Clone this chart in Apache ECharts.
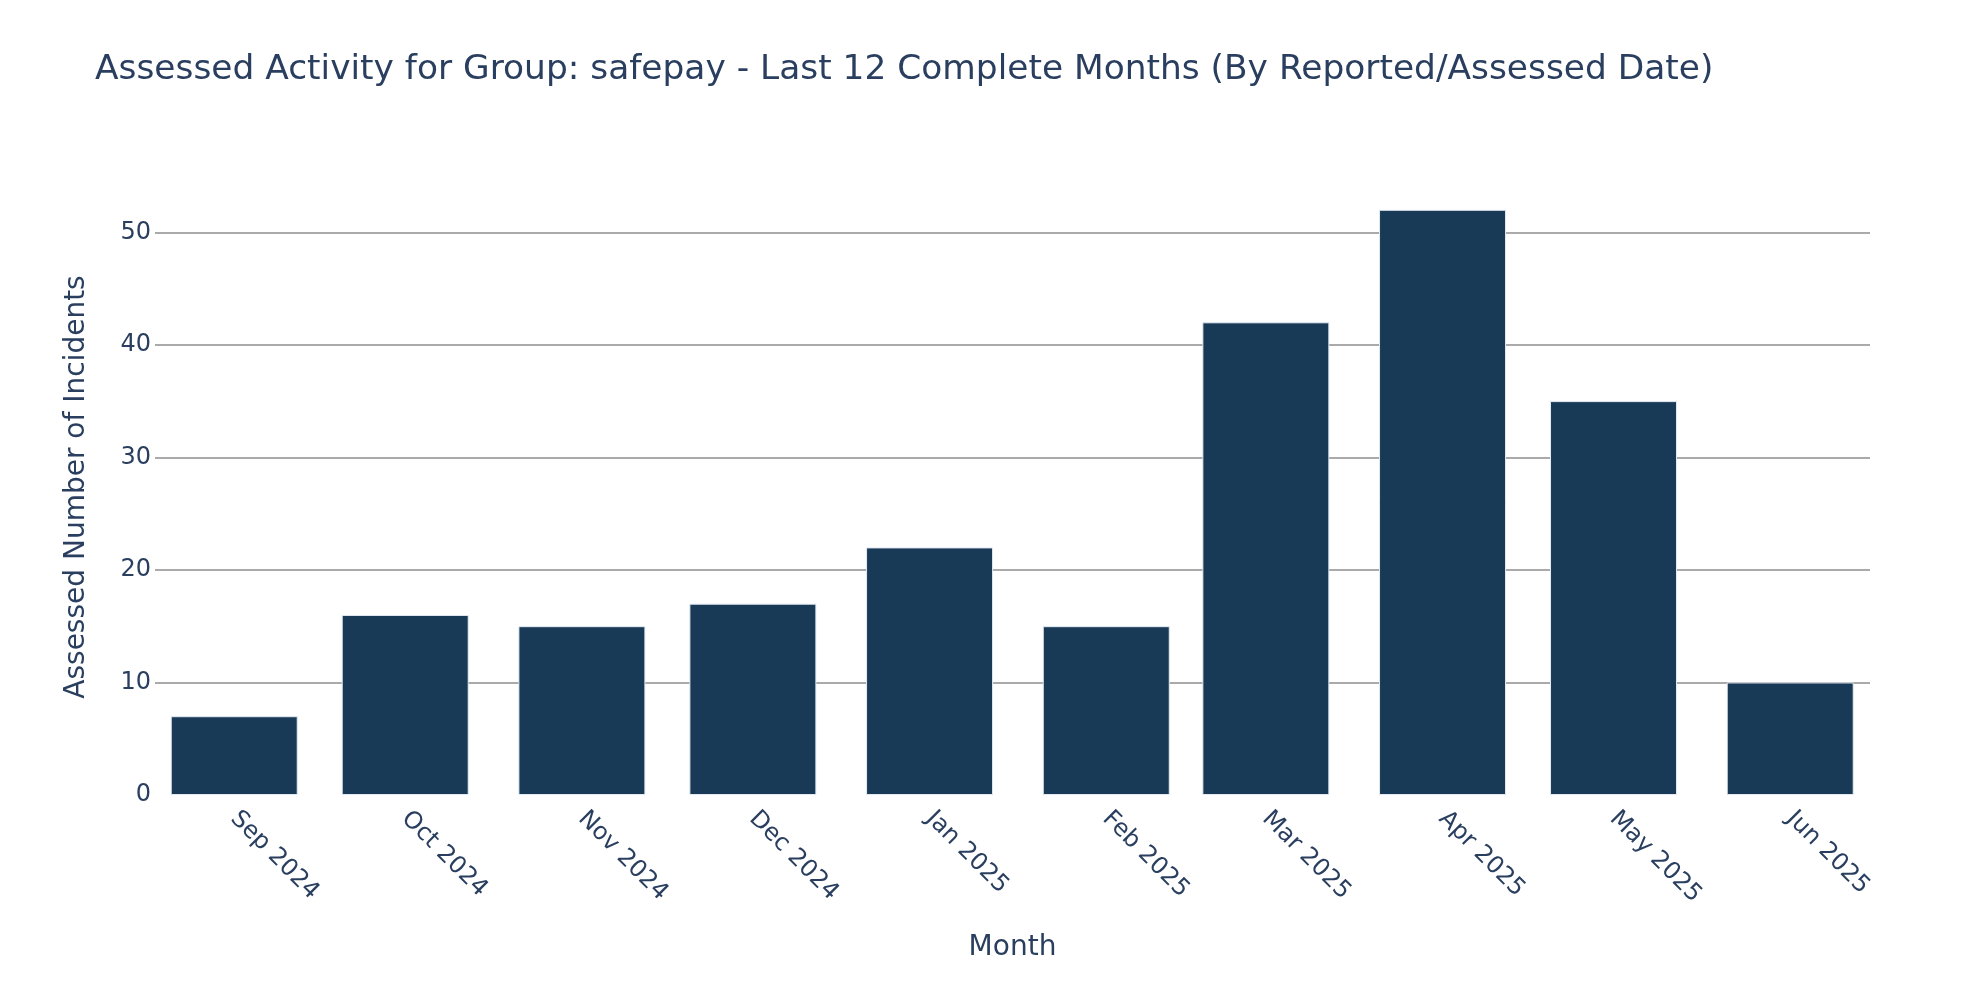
<!DOCTYPE html>
<html>
<head>
<meta charset="utf-8">
<script src="https://cdn.jsdelivr.net/npm/echarts@6/dist/echarts.min.js"></script>
<style>
  html, body { margin: 0; padding: 0; background: #ffffff; }
  #chart { width: 1962px; height: 992px; }
</style>
</head>
<body>
<div id="chart"></div>
<script>
// ---- data ----
const months = ['2024-09', '2024-10', '2024-11', '2024-12', '2025-01', '2025-02', '2025-03', '2025-04', '2025-05', '2025-06'];
const tickLabels = ['Sep 2024', 'Oct 2024', 'Nov 2024', 'Dec 2024', 'Jan 2025', 'Feb 2025', 'Mar 2025', 'Apr 2025', 'May 2025', 'Jun 2025'];
const incidents = [7, 16, 15, 17, 22, 15, 42, 52, 35, 10];

const titleText = 'Assessed Activity for Group: safepay - Last 12 Complete Months (By Reported/Assessed Date)';
const xTitle = 'Month';
const yTitle = 'Assessed Number of Incidents';

// ---- helpers ----
const DAY = 86400000;
function monthStart(s) {
  const [y, m] = s.split('-').map(Number);
  return Date.UTC(y, m - 1, 1);
}
const monthTs = months.map(monthStart);
const labelByTs = {};
monthTs.forEach((t, i) => { labelByTs[t] = tickLabels[i]; });

const textColor = '#2a3f5f';
const font = 'DejaVu Sans, Verdana, sans-serif';

const chart = echarts.init(document.getElementById('chart'), null, { renderer: 'canvas' });
chart.setOption({
  backgroundColor: '#ffffff',
  animation: false,
  title: {
    text: titleText,
    left: 90,
    top: 48,
    textStyle: { fontFamily: font, fontSize: 34.4, fontWeight: 'normal', color: textColor }
  },
  grid: { left: 155, right: 92, top: 179, bottom: 197 },
  xAxis: {
    type: 'value',
    min: monthTs[0] - 13.9 * DAY,
    max: monthTs[monthTs.length - 1] + 14 * DAY,
    name: xTitle,
    nameLocation: 'middle',
    nameGap: 139,
    nameTextStyle: { fontFamily: font, fontSize: 28, color: textColor },
    axisLine: { show: false },
    axisTick: { show: false },
    splitLine: { show: false },
    axisLabel: {
      customValues: monthTs,
      rotate: -45,
      margin: 20,
      fontFamily: font,
      fontSize: 24,
      color: textColor,
      formatter: function (v) { return labelByTs[v] || ''; }
    }
  },
  yAxis: {
    type: 'value',
    min: 0,
    max: 54.737,
    interval: 10,
    name: yTitle,
    nameLocation: 'middle',
    nameRotate: 90,
    nameGap: 64,
    nameTextStyle: { fontFamily: font, fontSize: 28, color: textColor },
    axisLine: { show: false },
    axisTick: { show: false },
    axisLabel: {
      margin: 4,
      fontFamily: font,
      fontSize: 24,
      color: textColor,
      showMaxLabel: false,
      formatter: function (v) { return (v % 10 === 0) ? String(v) : ''; }
    },
    splitLine: {
      show: true,
      showMinLine: false,
      showMaxLine: false,
      lineStyle: { color: '#aaaaaa', width: 2 }
    }
  },
  series: [{
    type: 'bar',
    data: monthTs.map((t, i) => [t, incidents[i]]),
    barWidth: 127,
    itemStyle: { color: '#183a56', borderColor: '#e3eaf3', borderWidth: 1 }
  }]
});
</script>
</body>
</html>
